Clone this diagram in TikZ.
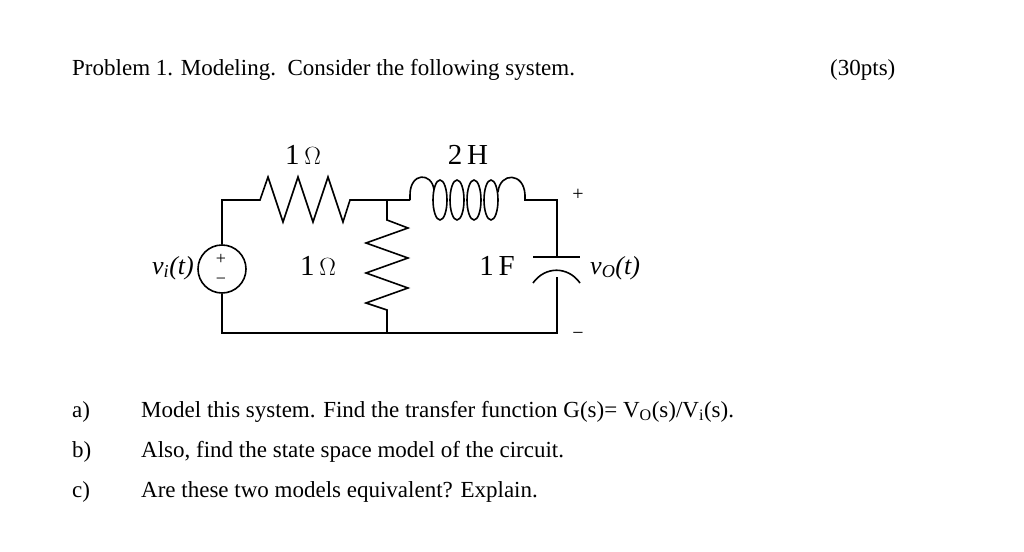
\documentclass[tikz,border=0pt]{standalone}
\usepackage{fontspec}
\setmainfont{Liberation Serif}
\begin{document}
\begin{tikzpicture}[x=1pt,y=-1pt,
  wire/.style={line width=1.6pt,line join=miter},
  lbl/.style={font=\fontsize{29}{29}\selectfont,inner sep=0},
  txt/.style={font=\fontsize{23}{23}\selectfont,anchor=base west,inner sep=0}]
\useasboundingbox (0,0) rectangle (1024,551);
\node[txt] (title) at (72,75) {Problem 1. Modeling.\ \ Consider the following system.};
\node[txt] (pts) at (830,75) {(30pts)};
\node[txt] (a) at (72,417) {a)};
\node[txt] (b) at (72,457) {b)};
\node[txt] (c) at (72,497) {c)};
\node[txt] (ta) at (141,417) {Model this system. Find the transfer function G(s)= V\textsubscript{O}(s)/V\textsubscript{i}(s).};
\node[txt] (tb) at (141,457) {Also, find the state space model of the circuit.};
\node[txt] (tc) at (141,497) {Are these two models equivalent? Explain.};
% circuit
\node[circle,draw,line width=1.6pt,minimum width=48pt,inner sep=0] (src) at (222,269) {};
\node[font=\fontsize{18}{18}\selectfont,inner sep=0] (plus) at (221,259) {+};
\node[font=\fontsize{18}{18}\selectfont,inner sep=0] (minus) at (221,281) {\textminus};
\coordinate (tl) at (222,200);
\coordinate (bl) at (222,333);
\coordinate (j) at (387,200);
\coordinate (jb) at (387,333);
\coordinate (tr) at (557,200);
\coordinate (br) at (557,333);
\draw[wire] (src.north) -- (tl) -- (260,200) -- (268,177) -- (283,222) -- (298,177) -- (313,222) -- (328,177) -- (343,222) -- (350,200) -- (j) -- (410,200);
\draw[wire] (src.south) -- (bl) -- (jb) -- (br) -- (557,277);
\draw[wire] (j) -- (387,220) -- (408,228) -- (366,243) -- (408,258) -- (366,273) -- (408,288) -- (366,303) -- (387,310) -- (jb);
% inductor
\draw[wire] (410,200) -- (410,195) .. controls (410,172) and (432,172) .. (434,190);
\foreach \cx in {440,457,474,491} \draw[wire] (\cx,200) ellipse[x radius=7,y radius=20];
\draw[wire] (498,192) .. controls (500,172) and (524,172) .. (525,195) -- (525,200) -- (tr) -- (557,257);
% capacitor
\draw[wire] (533,257) -- (580,257);
\draw[wire] (533,283) .. controls (545,266) and (568,266) .. (580,283);
\node[lbl] (r1) at (303,155) {1\,$\Omega$};
\node[lbl] (l1) at (468,155) {2\,H};
\node[lbl] (r2) at (318,266) {1\,$\Omega$};
\node[lbl] (c1) at (497,266) {1\,F};
\node[font=\fontsize{20}{20}\selectfont,inner sep=0] (vp) at (578,195) {+};
\node[font=\fontsize{20}{20}\selectfont,inner sep=0] (vm) at (578,336) {\textminus};
\node[lbl,font=\fontsize{26}{26}\selectfont\itshape,anchor=west] (vo) at (590,268) {v\textsubscript{O}(t)};
\node[lbl,font=\fontsize{26}{26}\selectfont\itshape,anchor=east] (vi) at (194,268) {v\textsubscript{i}(t)};
\end{tikzpicture}
\end{document}
